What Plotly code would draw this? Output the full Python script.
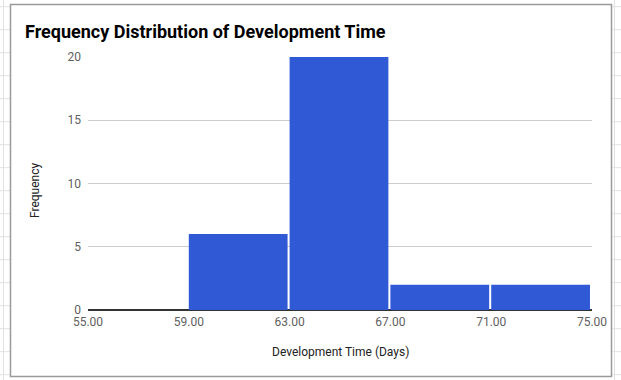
import plotly.graph_objects as go

# Data
bin_starts = [55, 59, 63, 67, 71]
frequencies = [0, 6, 20, 2, 2]
x_tick_vals = [55, 59, 63, 67, 71, 75]
x_tick_text = ["55.00", "59.00", "63.00", "67.00", "71.00", "75.00"]
y_tick_vals = [0, 5, 10, 15, 20]

W, H = 621, 380
L, R, T, B = 88, 592, 57, 310  # plot area in pixels


def px(x):
    return (x - L) / (R - L)


def py(y):
    return (B - y) / (B - T)


fig = go.Figure()
fig.add_trace(go.Bar(
    x=bin_starts, y=frequencies, width=3.92, offset=0,
    marker=dict(color="#3059d6", line=dict(width=0)),
    hoverinfo="skip",
))

shapes = []
grid_c = "#e2e2e2"
# spreadsheet grid lines outside the chart frame
shapes.append(dict(type="line", xref="paper", yref="paper", x0=px(3.5), x1=px(3.5), y0=py(0), y1=py(380),
                   line=dict(color=grid_c, width=1), layer="below"))
shapes.append(dict(type="line", xref="paper", yref="paper", x0=px(614.5), x1=px(614.5), y0=py(0), y1=py(380),
                   line=dict(color=grid_c, width=1), layer="below"))
yy = 6.7
while yy < 380:
    shapes.append(dict(type="line", xref="paper", yref="paper", x0=px(0), x1=px(10), y0=py(yy), y1=py(yy),
                       line=dict(color=grid_c, width=1), layer="below"))
    shapes.append(dict(type="line", xref="paper", yref="paper", x0=px(612), x1=px(621), y0=py(yy), y1=py(yy),
                       line=dict(color=grid_c, width=1), layer="below"))
    yy += 23
# chart frame
shapes.append(dict(type="rect", xref="paper", yref="paper", x0=px(10.5), x1=px(611.5), y0=py(376.5), y1=py(4.5),
                   line=dict(color="#9a9a9a", width=1.5), fillcolor="rgba(0,0,0,0)", layer="below"))

fig.update_layout(
    width=W, height=H,
    margin=dict(l=L, r=W - R, t=T, b=H - B),
    paper_bgcolor="white", plot_bgcolor="white",
    showlegend=False,
    font=dict(family="Roboto, Arial, sans-serif"),
    title=dict(text="<b>Frequency Distribution of Development Time</b>",
               xref="container", yref="container",
               x=25 / W, xanchor="left", y=1 - 32 / H, yanchor="middle",
               font=dict(family="Roboto, Arial, sans-serif", size=18, color="#000000")),
    xaxis=dict(range=[55, 75], tickvals=x_tick_vals, ticktext=x_tick_text,
               showgrid=False, zeroline=False, showline=False,
               ticks="", ticklabelstandoff=3,
               tickfont=dict(size=12, color="#5f5f5f"), fixedrange=True),
    yaxis=dict(range=[0, 20], tickvals=y_tick_vals, showgrid=True, gridcolor="#cccccc", gridwidth=1,
               zeroline=True, zerolinecolor="#333333", zerolinewidth=1.5,
               ticks="", ticklabelstandoff=6,
               tickfont=dict(size=12, color="#5f5f5f"), fixedrange=True),
    shapes=shapes,
    annotations=[
        dict(text="Frequency", xref="paper", yref="paper", x=px(35), y=py(190),
             textangle=-90, showarrow=False, xanchor="center", yanchor="middle",
             font=dict(size=12, color="#222222")),
        dict(text="Development Time (Days)", xref="paper", yref="paper", x=px(340), y=py(352),
             showarrow=False, xanchor="center", yanchor="middle",
             font=dict(size=12, color="#222222")),
    ],
)

fig.write_html("out.html", config={"displayModeBar": False},
               post_script="document.body.style.margin='0';document.body.style.overflow='hidden';")
